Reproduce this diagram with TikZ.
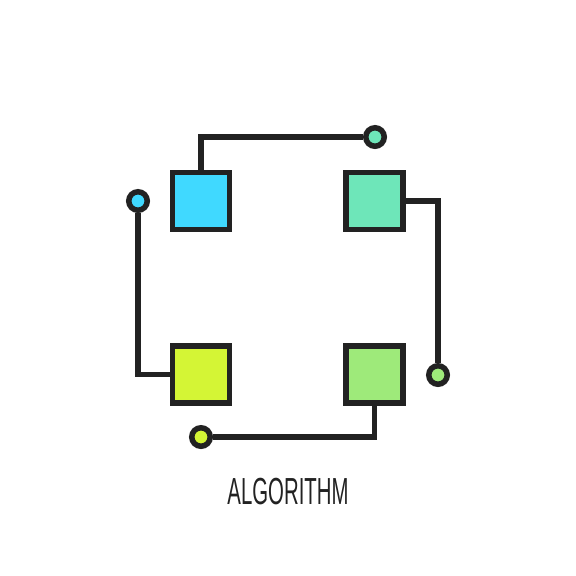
\documentclass[tikz,border=0pt]{standalone}
\usepackage{fontspec}
\newfontfamily\labelfont[FakeStretch=0.54]{Liberation Sans}
\definecolor{ink}{HTML}{222222}
\definecolor{cblue}{HTML}{40D9FF}
\definecolor{cteal}{HTML}{6EE6B9}
\definecolor{cyell}{HTML}{D4F535}
\definecolor{cgreen}{HTML}{9EEA7A}
\tikzset{
  sq/.style={draw=ink, line width=5.5pt, minimum size=57pt, inner sep=0pt, rectangle},
  dot/.style={draw=ink, line width=5.5pt, minimum size=18.5pt, inner sep=0pt, circle},
  wire/.style={draw=ink, line width=5.5pt}
}
\begin{document}
\begin{tikzpicture}[x=1pt,y=-1pt]
\useasboundingbox (0,0) rectangle (576,576);
\node[sq, fill=cblue] (b) at (201,201) {};
\node[sq, fill=cteal] (t) at (374.5,201) {};
\node[sq, fill=cyell] (y) at (201,374.5) {};
\node[sq, fill=cgreen] (g) at (374.5,374.5) {};
\node[dot, fill=cteal] (c1) at (375,137) {};
\node[dot, fill=cblue] (c2) at (138,201) {};
\node[dot, fill=cgreen] (c3) at (438,375) {};
\node[dot, fill=cyell] (c4) at (201,437) {};
\draw[wire] (b.north) |- (c1.west);
\draw[wire] (c2.south) |- (y.west);
\draw[wire] (t.east) -| (c3.north);
\draw[wire] (g.south) |- (c4.east);
\node[text=ink, font=\labelfont\fontsize{37.7}{40}\selectfont, inner sep=0pt] (lbl) at (288,492) {ALGORITHM};
\end{tikzpicture}
\end{document}
